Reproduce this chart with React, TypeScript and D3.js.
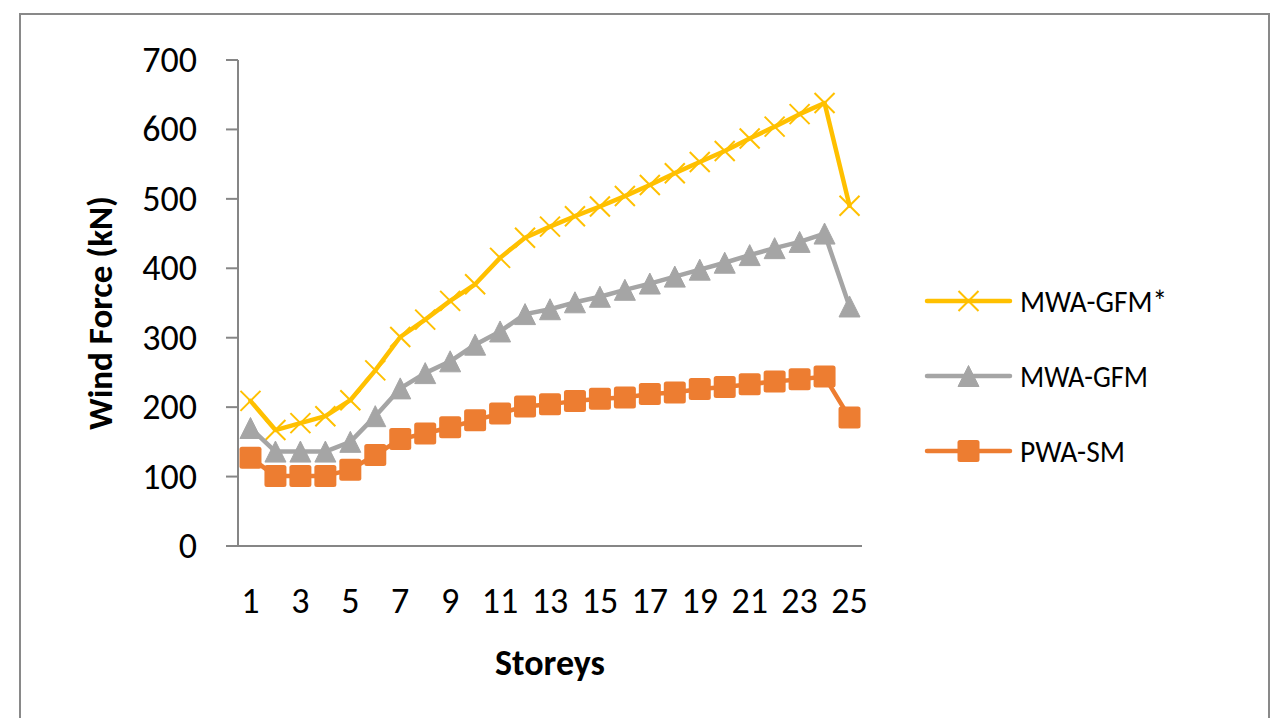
import React from "react";
import * as d3 from "d3";

// Storey numbers along the x axis
const storeys = [
  1, 2, 3, 4, 5, 6, 7, 8, 9, 10, 11, 12, 13, 14, 15, 16, 17, 18, 19, 20, 21, 22,
  23, 24, 25,
];

// Wind force (kN) per storey
const mwaGfmStar = [
  209, 167, 177, 187, 210, 253, 301, 326, 353, 377, 415, 444, 460, 475, 489,
  504, 520, 537, 553, 569, 587, 604, 622, 638, 490,
];
const mwaGfm = [
  170, 136, 136, 136, 150, 187, 227, 249, 266, 290, 309, 334, 341, 351, 359,
  369, 378, 388, 398, 408, 419, 429, 438, 450, 345,
];
const pwaSm = [
  127, 101, 101, 101, 110, 131, 154, 162, 171, 181, 191, 201, 204, 209, 212,
  214, 219, 221, 226, 229, 233, 237, 240, 244, 185,
];

const yTicks = [0, 100, 200, 300, 400, 500, 600, 700];
const xTickLabels = [1, 3, 5, 7, 9, 11, 13, 15, 17, 19, 21, 23, 25];

type Marker = "x" | "triangle" | "square";

const SERIES: { name: string; values: number[]; color: string; marker: Marker }[] = [
  { name: "MWA-GFM*", values: mwaGfmStar, color: "#FFC000", marker: "x" },
  { name: "MWA-GFM", values: mwaGfm, color: "#A5A5A5", marker: "triangle" },
  { name: "PWA-SM", values: pwaSm, color: "#ED7D31", marker: "square" },
];

const FONT = "Carlito, Lato, 'Open Sans', sans-serif";
const AXIS = "#868686";

const W = 1285;
const H = 718;
const plot = { left: 238, right: 862, top: 60, bottom: 546 };

function MarkerShape({ kind, cx, cy, color }: { kind: Marker; cx: number; cy: number; color: string }) {
  if (kind === "x") {
    const r = 10;
    return (
      <path
        d={`M${cx - r},${cy - r}L${cx + r},${cy + r}M${cx - r},${cy + r}L${cx + r},${cy - r}`}
        stroke={color}
        strokeWidth={2}
        fill="none"
      />
    );
  }
  if (kind === "triangle") {
    const h = 21;
    const w = 21;
    return (
      <path
        d={`M${cx},${cy - h / 2}L${cx + w / 2},${cy + h / 2}L${cx - w / 2},${cy + h / 2}Z`}
        fill={color}
        stroke={color}
        strokeWidth={1}
        strokeLinejoin="round"
      />
    );
  }
  const s = 22;
  return <rect x={cx - s / 2} y={cy - s / 2} width={s} height={s} rx={2.5} fill={color} />;
}

export default function App() {
  const x = d3
    .scalePoint<number>()
    .domain(storeys)
    .range([plot.left, plot.right])
    .padding(0.5);

  const y = d3.scaleLinear().domain([0, 700]).range([plot.bottom, plot.top]);

  const line = d3
    .line<number>()
    .x((_, i) => x(storeys[i])!)
    .y((d) => y(d));

  const legendX1 = 927;
  const legendX2 = 1010;
  const legendY = [301, 376, 451];
  const legendWidths = [147, 128, 105];

  return (
    <div style={{ position: "fixed", left: 0, top: 0 }}>
      <svg width={W} height={H} style={{ display: "block", background: "#fff" }}>
        {/* outer frame */}
        <rect x={20} y={14} width={1249} height={720} fill="#fff" stroke="#898989" strokeWidth={2} />

        {/* y axis */}
        <line x1={plot.left} x2={plot.left} y1={plot.top} y2={plot.bottom} stroke={AXIS} strokeWidth={2} />
        {yTicks.map((t) => (
          <g key={t}>
            <line x1={plot.left - 12} x2={plot.left} y1={y(t)} y2={y(t)} stroke={AXIS} strokeWidth={2} />
            <text
              x={197}
              y={y(t)}
              textAnchor="end"
              dominantBaseline="central"
              fontFamily={FONT}
              fontSize={36}
              fill="#000"
            >
              {t}
            </text>
          </g>
        ))}

        {/* x axis */}
        <line x1={plot.left - 12} x2={plot.right} y1={plot.bottom} y2={plot.bottom} stroke={AXIS} strokeWidth={2} />
        {xTickLabels.map((t) => (
          <text
            key={t}
            x={x(t)}
            y={601}
            textAnchor="middle"
            dominantBaseline="central"
            fontFamily={FONT}
            fontSize={36}
            fill="#000"
          >
            {t}
          </text>
        ))}

        {/* axis titles */}
        <text
          transform={`translate(100, ${(plot.top + plot.bottom) / 2 + 10}) rotate(-90)`}
          textAnchor="middle"
          dominantBaseline="central"
          fontFamily={FONT}
          fontWeight="bold"
          fontSize={35}
          fill="#000"
        >
          Wind Force (kN)
        </text>
        <text
          x={(plot.left + plot.right) / 2}
          y={663}
          textAnchor="middle"
          dominantBaseline="central"
          fontFamily={FONT}
          fontWeight="bold"
          fontSize={36}
          fill="#000"
        >
          Storeys
        </text>

        {/* series */}
        {SERIES.map((s) => (
          <g key={s.name}>
            <path
              d={line(s.values) ?? ""}
              fill="none"
              stroke={s.color}
              strokeWidth={4.5}
              strokeLinejoin="round"
              strokeLinecap="round"
            />
            {s.values.map((v, i) => (
              <MarkerShape key={i} kind={s.marker} cx={x(storeys[i])!} cy={y(v)} color={s.color} />
            ))}
          </g>
        ))}

        {/* legend */}
        {SERIES.map((s, i) => (
          <g key={s.name}>
            <line
              x1={legendX1}
              x2={legendX2}
              y1={legendY[i]}
              y2={legendY[i]}
              stroke={s.color}
              strokeWidth={4.5}
              strokeLinecap="round"
            />
            <MarkerShape kind={s.marker} cx={(legendX1 + legendX2) / 2} cy={legendY[i]} color={s.color} />
            <text
              x={1020}
              y={legendY[i]}
              dominantBaseline="central"
              fontFamily={FONT}
              fontSize={31}
              textLength={legendWidths[i]}
              lengthAdjust="spacingAndGlyphs"
              fill="#000"
            >
              {s.name}
            </text>
          </g>
        ))}
      </svg>
    </div>
  );
}
